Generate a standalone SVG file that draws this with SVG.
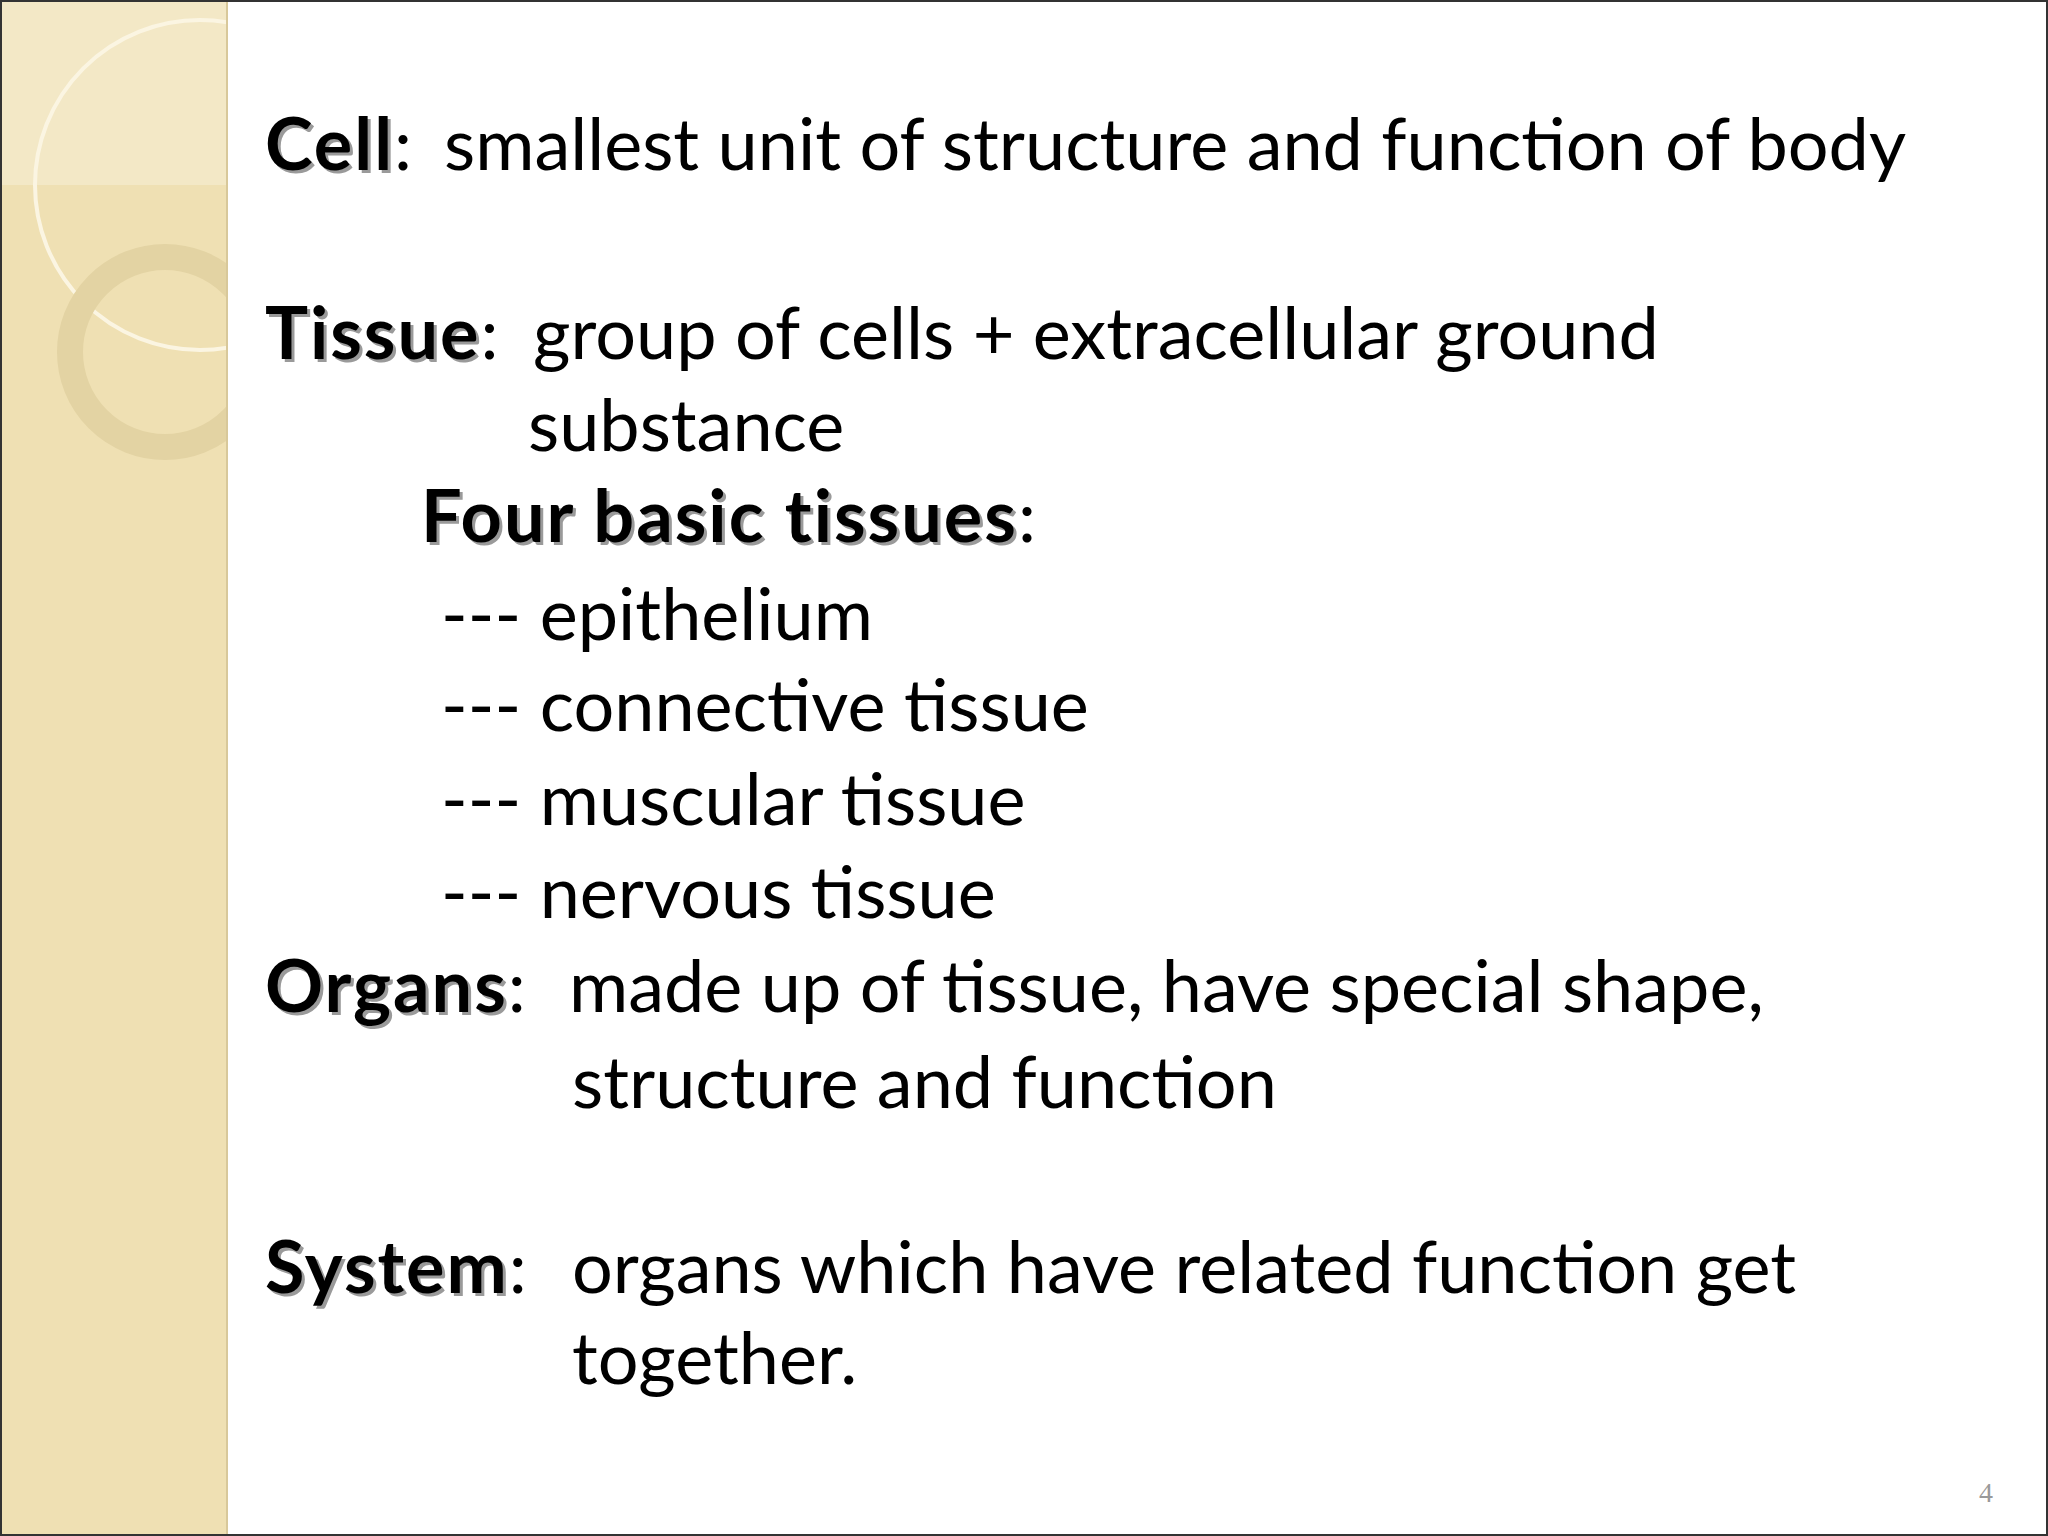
<svg xmlns="http://www.w3.org/2000/svg" width="2048" height="1536" viewBox="0 0 2048 1536">
<defs>
<style>
.t{font-family:Lato,"Open Sans","Liberation Sans",sans-serif;font-size:72px;fill:#000}
.b{font-weight:bold;letter-spacing:2px}
.sh{fill:#9a9a9a}
</style>
<clipPath id="strip"><rect x="0" y="0" width="227" height="1536"/></clipPath>
</defs>
<rect width="2048" height="1536" fill="#fff"/>
<rect x="0" y="0" width="227" height="1536" fill="#efe0b3"/>
<rect x="0" y="0" width="227" height="185" fill="#f3e8c6"/>
<g clip-path="url(#strip)">
<circle cx="200" cy="185" r="165" fill="none" stroke="#fbf5e2" stroke-width="4"/>
<circle cx="165" cy="352" r="95" fill="none" stroke="#e3d3a3" stroke-width="26"/>
</g>
<line x1="227" y1="0" x2="227" y2="1536" stroke="#d8c89a" stroke-width="2"/>
<rect x="1" y="1" width="2046" height="1534" fill="none" stroke="#333" stroke-width="2"/>
<g id="cell"><text class="t b sh" x="268" y="173">Cell</text><text class="t" x="265" y="170"><tspan class="b">Cell</tspan>: <tspan x="444">smallest unit of structure and function of body</tspan></text></g>
<g id="tissue"><text class="t b sh" x="268" y="362">Tissue</text><text class="t" x="265" y="359"><tspan class="b">Tissue</tspan>: <tspan x="533">group of cells + extracellular ground</tspan></text>
<text class="t" x="528" y="451">substance</text>
<text class="t b sh" x="424" y="545">Four basic tissues</text><text class="t" x="421" y="542"><tspan class="b">Four basic tissues</tspan>:</text>
<text class="t" x="441" y="640">--- epithelium</text>
<text class="t" x="441" y="731">--- connective tissue</text>
<text class="t" x="441" y="825">--- muscular tissue</text>
<text class="t" x="441" y="918">--- nervous tissue</text></g>
<g id="organs"><text class="t b sh" x="268" y="1015">Organs</text><text class="t" x="265" y="1012"><tspan class="b">Organs</tspan>: <tspan x="569">made up of tissue, have special shape,</tspan></text>
<text class="t" x="572" y="1108">structure and function</text></g>
<g id="system"><text class="t b sh" x="268" y="1296">System</text><text class="t" x="265" y="1293"><tspan class="b">System</tspan>: <tspan x="572">organs which have related function get</tspan></text>
<text class="t" x="572" y="1384">together.</text></g>
<text x="1979" y="1502" font-family="Liberation Serif,serif" font-size="28" fill="#999">4</text>
</svg>
